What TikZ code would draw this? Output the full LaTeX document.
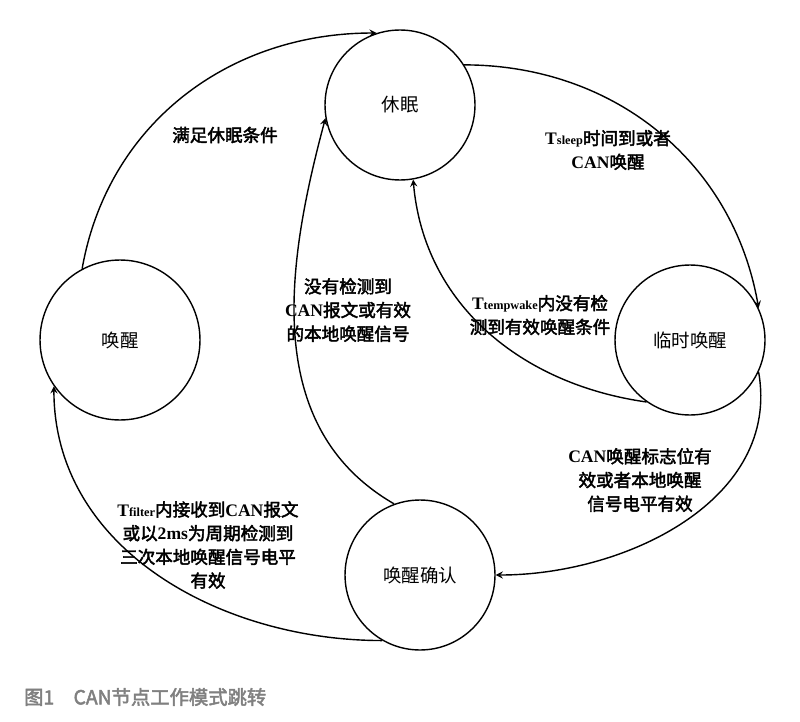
\documentclass[tikz,border=0pt]{standalone}
\usepackage{fontspec}
\setmainfont{Noto Sans CJK SC}[AutoFakeBold=2.5]
\newfontfamily\lat{Liberation Serif}
\usetikzlibrary{positioning, arrows, calc}
\newcommand{\Lb}[1]{{\lat\bfseries #1}}
\begin{document}
\begin{tikzpicture}[x=0.02cm, y=0.02cm,
    font=\fontsize{10}{13.5}\selectfont,
    state/.style={draw, circle, thick, minimum size=3cm, font=\fontsize{10.5}{13}\selectfont\mdseries},
    trans/.style={-stealth, thick},
    lbl/.style={align=center, font=\fontsize{10}{13.5}\selectfont\bfseries}]
    \useasboundingbox (0,0) rectangle (800,721);

    % states
    \node[state] (sleep) at (400,616) {休眠};
    \node[state] (temp) at (690,381) {临时唤醒};
    \node[state] (confirm) at (420,146) {唤醒确认};
    \node[state, minimum size=3.2cm] (wake) at (120,381) {唤醒};

    % transitions
    \draw[trans] (wake.118) to[out=80, in=180] (sleep.108);
    \draw[trans] (sleep.32) to[out=0, in=100] (temp.25);
    \draw[trans] (temp.235) to[out=172, in=-85] (sleep.280);
    \draw[trans] (temp.-25) to[out=-80, in=0] (confirm.0);
    \draw[trans] (confirm.110) to[out=150, in=-105] (sleep.190);
    \draw[trans] (confirm.240) to[out=180, in=-90] (wake.215);

    % labels
    \node[lbl] (l1) at (225,586) {满足休眠条件};
    \node[lbl] (l2) at (608,571) {\Lb{T}{\lat\bfseries\scriptsize sleep}时间到或者\\\Lb{CAN}唤醒};
    \node[lbl] (l3) at (540,406) {\Lb{T}{\lat\bfseries\scriptsize tempwake}内没有检\\测到有效唤醒条件};
    \node[lbl] (l4) at (640,241) {\Lb{CAN}唤醒标志位有\\效或者本地唤醒\\信号电平有效};
    \node[lbl] (l5) at (348,411) {没有检测到\\\Lb{CAN}报文或有效\\的本地唤醒信号};
    \node[lbl] (l6) at (208,176) {\Lb{T}{\lat\bfseries\scriptsize filter}内接收到\Lb{CAN}报文\\或以\Lb{2ms}为周期检测到\\三次本地唤醒信号电平\\有效};

    % caption
    \node[anchor=west, text=gray, font=\fontsize{11}{13}\selectfont\bfseries] (cap) at (18,24) {图1\quad CAN节点工作模式跳转};
\end{tikzpicture}
\end{document}
